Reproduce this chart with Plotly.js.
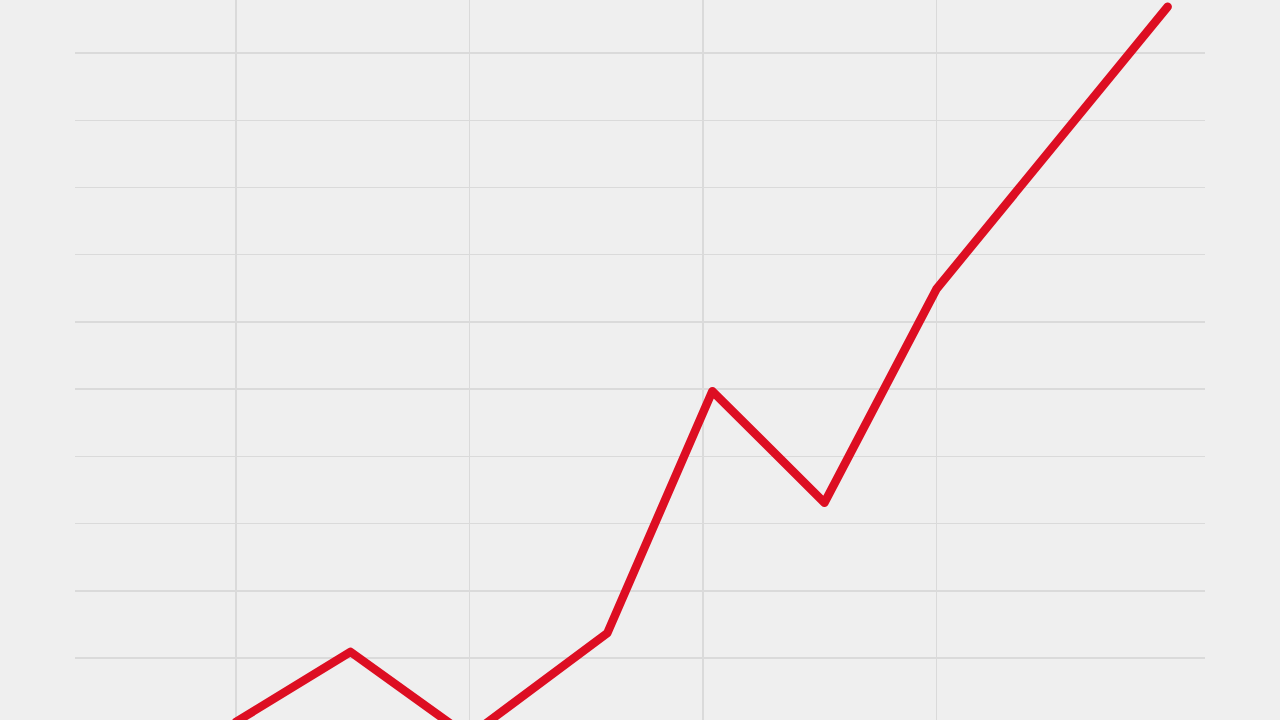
<!DOCTYPE html>
<html>
<head>
<meta charset="utf-8">
<script src="https://cdn.plot.ly/plotly-3.0.1.min.js"></script>
<style>
html,body{margin:0;padding:0;background:#efefef;}
#chart{width:1280px;height:720px;}
.js-line{stroke-linejoin:round !important;stroke-linecap:round !important;}
</style>
</head>
<body>
<div id="chart"></div>
<script>
const xValues = [1.0, 1.49, 1.995, 2.59, 3.04, 3.52, 4.0, 4.99];
const yValues = [0.05, 1.09, -0.17, 1.37, 4.97, 3.31, 6.49, 10.69];
const xTicks = [1, 2, 3, 4];

const trace = {
  x: xValues,
  y: yValues,
  type: 'scatter',
  mode: 'lines',
  line: {color: '#dd0e22', width: 8.5, shape: 'linear'},
  hoverinfo: 'skip'
};

const layout = {
  width: 1280,
  height: 720,
  margin: {l: 75, r: 75, t: 0, b: 0, pad: 0},
  paper_bgcolor: '#efefef',
  plot_bgcolor: '#efefef',
  showlegend: false,
  xaxis: {
    range: [0.31, 5.15],
    tickvals: xTicks,
    showticklabels: false,
    showgrid: true,
    gridcolor: '#dadada',
    gridwidth: 1.5,
    zeroline: false,
    showline: false,
    ticks: ''
  },
  yaxis: {
    range: [0.077, 10.79],
    tick0: 0,
    dtick: 1,
    showticklabels: false,
    showgrid: true,
    gridcolor: '#dadada',
    gridwidth: 1.5,
    zeroline: false,
    showline: false,
    ticks: ''
  }
};

Plotly.newPlot('chart', [trace], layout, {displayModeBar: false, staticPlot: true});
</script>
</body>
</html>
